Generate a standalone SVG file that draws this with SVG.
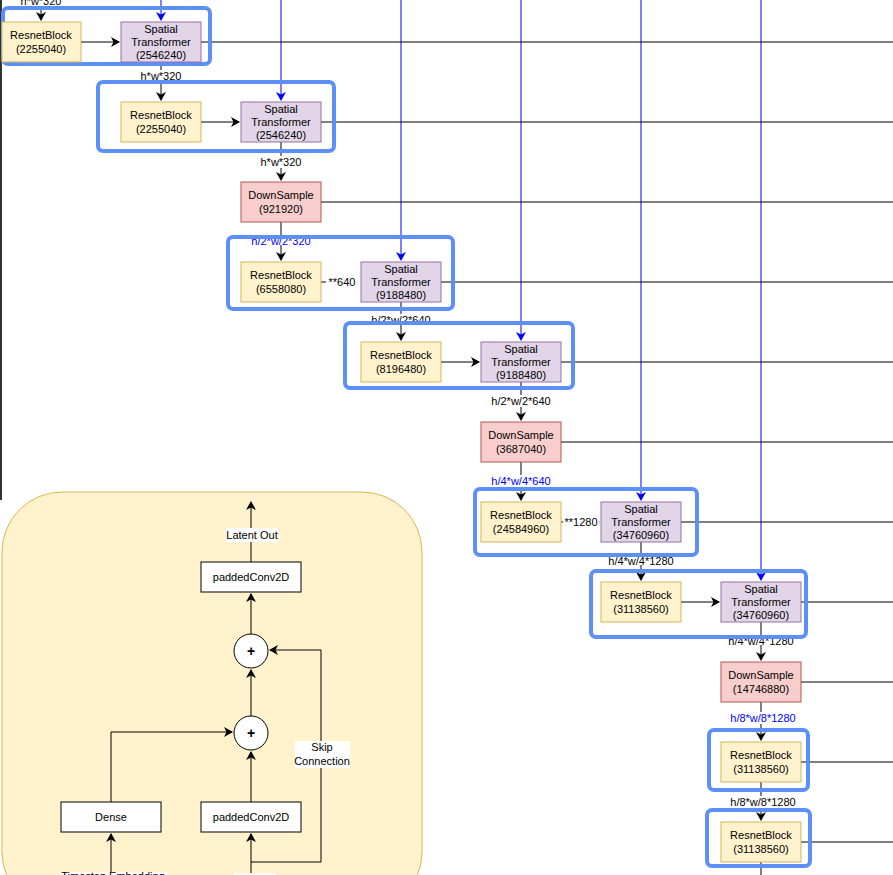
<svg xmlns="http://www.w3.org/2000/svg" width="893" height="875" viewBox="0 0 893 875">
<defs>
<marker id="a" markerWidth="10" markerHeight="10" refX="8" refY="5" orient="auto" markerUnits="userSpaceOnUse"><path d="M0,0 L9,5 L0,10 L2.5,5 Z" fill="#000"/></marker>
<marker id="b" markerWidth="10" markerHeight="10" refX="8" refY="5" orient="auto" markerUnits="userSpaceOnUse"><path d="M0,0 L9,5 L0,10 L2.5,5 Z" fill="#00f"/></marker>
<style>
text{font-family:"Liberation Sans",Arial,sans-serif;font-size:11px;text-anchor:middle}
.rb{fill:#fff2cc;stroke:#d6b656}
.st{fill:#e1d5e7;stroke:#9673a6}
.ds{fill:#f8cecc;stroke:#b85450}
.wb{fill:#fff;stroke:#000}
.grp{fill:none;stroke:#5b8ff9;stroke-width:4}
.ln{fill:none;stroke:#000;stroke-width:1}
.bl{fill:none;stroke:#00f;stroke-width:1}
.lb{fill:#fff}
.blue{fill:#00f}
</style>
</defs>
<rect width="893" height="875" fill="#fff"/>
<line x1="1" y1="0" x2="1" y2="500" stroke="#333" stroke-width="2"/>
<g id="connectors">
<path class="bl" d="M161,0V20" marker-end="url(#b)"/>
<path class="bl" d="M281,0V100" marker-end="url(#b)"/>
<path class="bl" d="M401,0V260" marker-end="url(#b)"/>
<path class="bl" d="M521,0V340" marker-end="url(#b)"/>
<path class="bl" d="M641,0V500" marker-end="url(#b)"/>
<path class="bl" d="M761,0V580" marker-end="url(#b)"/>
<path class="ln" d="M41,0V20" marker-end="url(#a)"/>
<path class="ln" d="M81,42H119" marker-end="url(#a)"/>
<path class="ln" d="M161,62V100" marker-end="url(#a)"/>
<path class="ln" d="M201,122H239" marker-end="url(#a)"/>
<path class="ln" d="M281,142V180" marker-end="url(#a)"/>
<path class="ln" d="M281,222V260" marker-end="url(#a)"/>
<path class="ln" d="M321,282H359" marker-end="url(#a)"/>
<path class="ln" d="M401,302V340" marker-end="url(#a)"/>
<path class="ln" d="M441,362H479" marker-end="url(#a)"/>
<path class="ln" d="M521,382V420" marker-end="url(#a)"/>
<path class="ln" d="M521,462V500" marker-end="url(#a)"/>
<path class="ln" d="M561,522H599" marker-end="url(#a)"/>
<path class="ln" d="M641,542V580" marker-end="url(#a)"/>
<path class="ln" d="M681,602H719" marker-end="url(#a)"/>
<path class="ln" d="M761,622V660" marker-end="url(#a)"/>
<path class="ln" d="M761,702V740" marker-end="url(#a)"/>
<path class="ln" d="M761,782V820" marker-end="url(#a)"/>
<path class="ln" d="M761,862V875"/>
<path class="ln" d="M201,42H893M321,122H893M321,202H893M441,282H893M561,362H893M561,442H893M681,522H893M801,602H893M801,682H893M801,762H893M801,842H893"/>
</g>
<g id="labels">
<rect class="lb" x="17" y="-4" width="48" height="10"/><text x="41" y="5">h*w*320</text>
<rect class="lb" x="137" y="70" width="48" height="12"/><text x="161" y="80">h*w*320</text>
<rect class="lb" x="257" y="156" width="48" height="12"/><text x="281" y="166">h*w*320</text>
<rect class="lb" x="250" y="235" width="62" height="10"/><text class="blue" x="281" y="245">h/2*w/2*320</text>
<rect class="lb" x="370" y="314" width="62" height="10"/><text x="401" y="324">h/2*w/2*640</text>
<rect class="lb" x="490" y="395" width="62" height="12"/><text x="521" y="405">h/2*w/2*640</text>
<rect class="lb" x="489" y="475" width="64" height="12"/><text class="blue" x="521" y="485">h/4*w/4*640</text>
<rect class="lb" x="606" y="555" width="70" height="10"/><text x="641" y="565">h/4*w/4*1280</text>
<rect class="lb" x="726" y="635" width="70" height="10"/><text x="761" y="645">h/4*w/4*1280</text>
<rect class="lb" x="726" y="712" width="70" height="12"/><text class="blue" x="763" y="722">h/8*w/8*1280</text>
<rect class="lb" x="726" y="796" width="70" height="12"/><text x="763" y="806">h/8*w/8*1280</text>
<rect class="lb" x="326" y="276" width="34" height="12"/><text x="342" y="286">**640</text>
<rect class="lb" x="563" y="516" width="36" height="12"/><text x="581" y="526">**1280</text>
</g>
<g id="row1">
<rect class="grp" x="3" y="8" width="207" height="56" rx="5"/>
<g id="rb1"><rect class="rb" x="2" y="22" width="79" height="40"/><text x="41" y="39">ResnetBlock</text><text x="41" y="53">(2255040)</text></g>
<g id="st1"><rect class="st" x="121" y="22" width="80" height="40"/><text x="161" y="33">Spatial</text><text x="161" y="46">Transformer</text><text x="161" y="59">(2546240)</text></g>
</g>
<g id="row2">
<rect class="grp" x="98" y="82" width="236" height="69" rx="5"/>
<g id="rb2"><rect class="rb" x="121" y="102" width="80" height="40"/><text x="161" y="119">ResnetBlock</text><text x="161" y="133">(2255040)</text></g>
<g id="st2"><rect class="st" x="241" y="102" width="80" height="40"/><text x="281" y="113">Spatial</text><text x="281" y="126">Transformer</text><text x="281" y="139">(2546240)</text></g>
</g>
<g id="ds1"><rect class="ds" x="241" y="182" width="80" height="40"/><text x="281" y="199">DownSample</text><text x="281" y="213">(921920)</text></g>
<g id="row3">
<rect class="grp" x="228" y="237" width="225" height="72" rx="5"/>
<g id="rb3"><rect class="rb" x="241" y="262" width="80" height="40"/><text x="281" y="279">ResnetBlock</text><text x="281" y="293">(6558080)</text></g>
<g id="st3"><rect class="st" x="361" y="262" width="80" height="40"/><text x="401" y="273">Spatial</text><text x="401" y="286">Transformer</text><text x="401" y="299">(9188480)</text></g>
</g>
<g id="row4">
<rect class="grp" x="345" y="323" width="228" height="65" rx="5"/>
<g id="rb4"><rect class="rb" x="361" y="342" width="80" height="40"/><text x="401" y="359">ResnetBlock</text><text x="401" y="373">(8196480)</text></g>
<g id="st4"><rect class="st" x="481" y="342" width="80" height="40"/><text x="521" y="353">Spatial</text><text x="521" y="366">Transformer</text><text x="521" y="379">(9188480)</text></g>
</g>
<g id="ds2"><rect class="ds" x="481" y="422" width="80" height="40"/><text x="521" y="439">DownSample</text><text x="521" y="453">(3687040)</text></g>
<g id="row5">
<rect class="grp" x="475" y="489" width="222" height="66" rx="5"/>
<g id="rb5"><rect class="rb" x="481" y="502" width="80" height="40"/><text x="521" y="519">ResnetBlock</text><text x="521" y="533">(24584960)</text></g>
<g id="st5"><rect class="st" x="601" y="502" width="80" height="40"/><text x="641" y="513">Spatial</text><text x="641" y="526">Transformer</text><text x="641" y="539">(34760960)</text></g>
</g>
<g id="row6">
<rect class="grp" x="591" y="571" width="215" height="66" rx="5"/>
<g id="rb6"><rect class="rb" x="601" y="582" width="80" height="40"/><text x="641" y="599">ResnetBlock</text><text x="641" y="613">(31138560)</text></g>
<g id="st6"><rect class="st" x="721" y="582" width="80" height="40"/><text x="761" y="593">Spatial</text><text x="761" y="606">Transformer</text><text x="761" y="619">(34760960)</text></g>
</g>
<g id="ds3"><rect class="ds" x="721" y="662" width="80" height="40"/><text x="761" y="679">DownSample</text><text x="761" y="693">(14746880)</text></g>
<g id="row7">
<rect class="grp" x="709" y="730" width="99" height="60" rx="5"/>
<g id="rb7"><rect class="rb" x="721" y="742" width="80" height="40"/><text x="761" y="759">ResnetBlock</text><text x="761" y="773">(31138560)</text></g>
</g>
<g id="row8">
<rect class="grp" x="707" y="810" width="103" height="56" rx="5"/>
<g id="rb8"><rect class="rb" x="721" y="822" width="80" height="40"/><text x="761" y="839">ResnetBlock</text><text x="761" y="853">(31138560)</text></g>
</g>
<g id="panel">
<rect x="2" y="492" width="420" height="420" rx="60" fill="#fff2cc" stroke="#d6b656"/>
<g id="panel-connectors">
<path class="ln" d="M251,562V502" marker-end="url(#a)"/>
<path class="ln" d="M251,634V594" marker-end="url(#a)"/>
<path class="ln" d="M251,716V670" marker-end="url(#a)"/>
<path class="ln" d="M251,802V752" marker-end="url(#a)"/>
<path class="ln" d="M111,802V732H232" marker-end="url(#a)"/>
<path class="ln" d="M251,875V834" marker-end="url(#a)"/>
<path class="ln" d="M111,875V834" marker-end="url(#a)"/>
<path class="ln" d="M251,862H321V650H270" marker-end="url(#a)"/>
</g>
<rect class="lb" x="226" y="528" width="52" height="14"/><text x="252" y="539">Latent Out</text>
<rect class="lb" x="295" y="741" width="55" height="27"/><text x="322" y="751">Skip</text><text x="322" y="765">Connection</text>
<rect class="lb" x="59" y="872" width="108" height="10"/><text x="113" y="880">Timestep Embedding</text>
<rect class="lb" x="234" y="873" width="42" height="6"/>
<g id="pc1"><rect class="wb" x="201" y="562" width="100" height="30"/><text x="251" y="581">paddedConv2D</text></g>
<g id="add1"><circle class="wb" cx="251" cy="651" r="17"/><text x="251" y="656" style="font-size:14px;font-weight:bold">+</text></g>
<g id="add2"><circle class="wb" cx="251" cy="733" r="17"/><text x="251" y="738" style="font-size:14px;font-weight:bold">+</text></g>
<g id="dense"><rect class="wb" x="61" y="802" width="100" height="30"/><text x="111" y="821">Dense</text></g>
<g id="pc2"><rect class="wb" x="201" y="802" width="100" height="30"/><text x="251" y="821">paddedConv2D</text></g>
</g>
</svg>
